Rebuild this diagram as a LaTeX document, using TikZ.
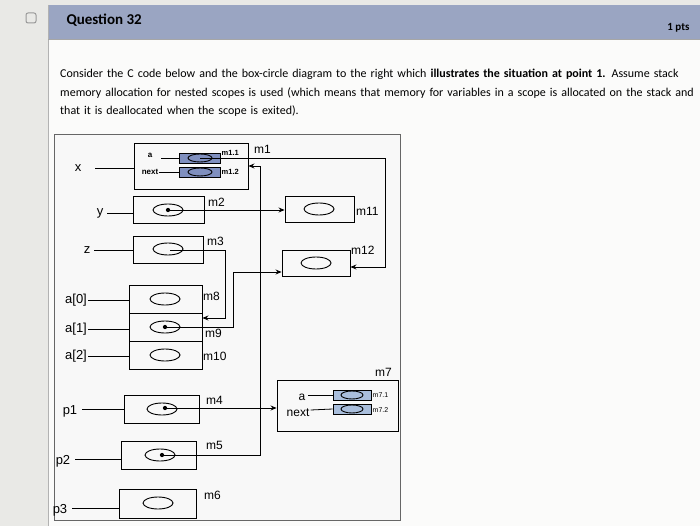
\documentclass[tikz,border=0pt]{standalone}
\usepackage{fontspec}
\setmainfont{Carlito}
\newfontfamily\arial{Liberation Sans}
\usetikzlibrary{arrows.meta,shapes.geometric}
\definecolor{bar}{HTML}{9AA5C2}
\definecolor{bg}{HTML}{E9E9E6}
\definecolor{cell}{HTML}{7F8FBF}
\definecolor{cellb}{HTML}{A9BEDC}
\tikzset{
 mbox/.style={draw,line width=0.9pt,inner sep=0pt},
 ell/.style={draw,ellipse,line width=0.9pt,minimum width=30pt,minimum height=12pt,inner sep=0pt},
 cellbox/.style={draw,line width=0.7pt,fill=#1,minimum width=41pt,minimum height=10pt,inner sep=0pt},
 lab/.style={font=\arial\fontsize{13}{14}\selectfont,inner sep=1pt},
 mlab/.style={font=\arial\fontsize{12}{13}\selectfont,inner sep=1pt,anchor=west},
 slab/.style={font=\arial\fontsize{7.5}{8}\selectfont\bfseries,inner sep=0.5pt,anchor=west},
 wire/.style={line width=0.8pt},
 arr/.style={line width=0.8pt,-{Stealth[length=6pt,width=5pt]}},
 dot/.style={circle,fill,inner sep=1.5pt}
}
\begin{document}
\begin{tikzpicture}[x=1pt,y=-1pt]
\useasboundingbox (0,0) rectangle (700,526);
\fill[bg] (0,0) rectangle (700,526);
\fill[white!80!bg] (48,40) rectangle (700,526);
\fill[bar] (48,5) rectangle (700,40);
\draw[gray!60,line width=1pt] (48,5) -- (48,526);
\draw[gray!70,line width=1pt] (48,40) -- (700,40);
\node[draw=gray!80,line width=1pt,rounded corners=2pt,minimum width=10pt,minimum height=10pt,inner sep=0pt] (ic) at (31,18) {};
\node[anchor=west,font=\fontsize{15}{16}\selectfont\bfseries] (title) at (63,20) {Question 32};
\node[anchor=east,font=\fontsize{11}{12}\selectfont\bfseries] (pts) at (693,28) {1 pts};
\node[anchor=north west,text width=640pt,font=\fontsize{12}{18.5}\selectfont,inner sep=0pt] (txt) at (60,69)
{Consider the C code below and the box-circle diagram to the right which \textbf{illustrates the situation at point 1.} Assume stack memory allocation for nested scopes is used (which means that memory for variables in a scope is allocated on the stack and that it is deallocated when the scope is exited).};
% frame
\fill[white!70!bg] (54,134) rectangle (400,520);
\draw[line width=0.8pt,gray!80!black] (54,134) rectangle (400,520);
% m1
\node[mbox,minimum width=114pt,minimum height=46pt] (m1) at (191,166) {};
\node[mlab] (m1l) at (253,149) {m1};
\node[cellbox=cell] (c11) at (200,158) {};
\node[cellbox=cell] (c12) at (200,172) {};
\node[ell,minimum width=24pt,minimum height=8pt] (e11) at (200,158) {};
\node[ell,minimum width=24pt,minimum height=8pt] (e12) at (200,172) {};
\node[slab] (l11) at (221,153) {m1.1};
\node[slab] (l12) at (221,172) {m1.2};
\node[font=\arial\fontsize{8}{9}\selectfont\bfseries,inner sep=1pt] (ma) at (150,155) {a};
\node[font=\arial\fontsize{8}{9}\selectfont\bfseries,inner sep=0.5pt] (mn) at (150,172) {next};
\draw[wire] (161,158) -- (c11.west);
\draw[wire] (mn.east) -- (c12.west);
\node[lab] (x) at (78,168) {x};
\draw[wire] (95,168) coordinate (xa) -- (xa -| m1.west);
% m2, m11
\node[mbox,minimum width=71pt,minimum height=27pt] (m2) at (168.5,210) {};
\node[ell] (e2) at (168,210) {}; \node[dot] (d2) at (168,210) {};
\node[mlab] (m2l) at (207,202) {m2};
\node[lab] (y) at (100,213) {y};
\draw[wire] (y.east) ++(3,0) -- (y.east -| m2.west);
\node[mbox,minimum width=69pt,minimum height=26pt] (m11) at (319.5,209) {};
\node[ell] (e11b) at (319,209) {};
\node[mlab] (m11l) at (355,211) {m11};
\draw[arr] (d2.center) -- (d2.center -| m11.west);
% m3, m12
\node[mbox,minimum width=70pt,minimum height=27pt] (m3) at (168,249.5) {};
\node[ell] (e3) at (168,249) {};
\coordinate (d3) at (170,250);
\node[mlab] (m3l) at (206,241) {m3};
\node[lab] (z) at (87,250) {z};
\draw[wire] (z.east) ++(3,0) -- (z.east -| m3.west);
\node[mbox,minimum width=68pt,minimum height=26pt] (m12) at (316,263) {};
\node[ell] (e12b) at (316,263) {};
\node[mlab] (m12l) at (350,250) {m12};
% array
\node[mbox,minimum width=73pt,minimum height=28pt] (m8) at (165.5,299) {};
\node[mbox,minimum width=73pt,minimum height=28pt] (m9) at (165.5,327) {};
\node[mbox,minimum width=73pt,minimum height=28pt] (m10) at (165.5,355) {};
\node[ell] (e8) at (165,299) {};
\node[ell] (e9) at (165,327) {}; \node[dot] (d9) at (165,327) {};
\node[ell] (e10) at (165,355) {};
\node[mlab] (m8l) at (202,296) {m8};
\node[mlab] (m9l) at (204,333) {m9};
\node[mlab] (m10l) at (202,356) {m10};
\node[lab] (a0) at (76,300) {a[0]};
\node[lab] (a1) at (76,329) {a[1]};
\node[lab] (a2) at (76,356) {a[2]};
\draw[wire] (a0.east) -- (a0.east -| m8.west);
\draw[wire] (a1.east) -- (a1.east -| m9.west);
\draw[wire] (a2.east) -- (a2.east -| m10.west);
% m7
\node[mbox,minimum width=121pt,minimum height=51pt] (m7) at (337.5,406) {};
\node[mlab] (m7l) at (374,372) {m7};
\node[cellbox=cellb,minimum width=38pt] (c71) at (352,395) {};
\node[cellbox=cellb,minimum width=38pt] (c72) at (352,409) {};
\node[ell,minimum width=22pt,minimum height=8pt] (e71) at (352,395) {};
\node[ell,minimum width=22pt,minimum height=8pt] (e72) at (352,409) {};
\node[slab,font=\arial\fontsize{7}{8}\selectfont] (l71) at (372,395) {m7.1};
\node[slab,font=\arial\fontsize{7}{8}\selectfont] (l72) at (372,410) {m7.2};
\node[font=\arial\fontsize{12}{13}\selectfont,inner sep=1pt] (ra) at (302,397) {a};
\node[font=\arial\fontsize{12}{13}\selectfont,inner sep=1pt] (rn) at (298,413) {next};
\draw[wire] (308,395) -- (c71.west);
\draw[wire] (rn.east) ++(0,-3) -- (c72.west);
% m4 m5 m6
\node[mbox,minimum width=75pt,minimum height=28pt] (m4) at (161.5,409) {};
\node[ell] (e4) at (162,409) {}; \node[dot] (d4) at (165,408) {};
\node[mlab] (m4l) at (205,400) {m4};
\node[lab] (p1) at (70,411) {p1};
\draw[wire] (p1.east) ++(4,-2) coordinate (p1e) -- (p1e -| m4.west);
\draw[arr] (d4.center) -- (d4.center -| m7.west);
\node[mbox,minimum width=75pt,minimum height=28pt] (m5) at (158.5,455) {};
\node[ell] (e5) at (160,455) {}; \node[dot] (d5) at (162,455) {};
\node[mlab] (m5l) at (205,445) {m5};
\node[lab] (p2) at (63,461) {p2};
\draw[wire] (p2.east) ++(4,-2) coordinate (p2e) -- (p2e -| m5.west);
\node[mbox,minimum width=77pt,minimum height=29pt] (m6) at (157.5,503.5) {};
\node[ell] (e6) at (158,503) {};
\node[mlab] (m6l) at (203,495) {m6};
\node[lab] (p3) at (60,510) {p3};
\draw[wire] (p3.east) ++(4,-2) coordinate (p3e) -- (p3e -| m6.west);
% bent pointers
\draw[arr] (e11.center) -- (385,158) -- (385,267) -- (m12.east |- 0,267);
\draw[arr] (d3) -- (225,250) -- (225,318) -- (m9.east |- 0,318);
\draw[arr] (d9.center) -- (233,327) -- (233,272) -- (m12.west |- 0,272);
\draw[arr] (d5.center) -- (260,455) -- (260,166) -- (m1.east |- 0,166);
\end{tikzpicture}
\end{document}
